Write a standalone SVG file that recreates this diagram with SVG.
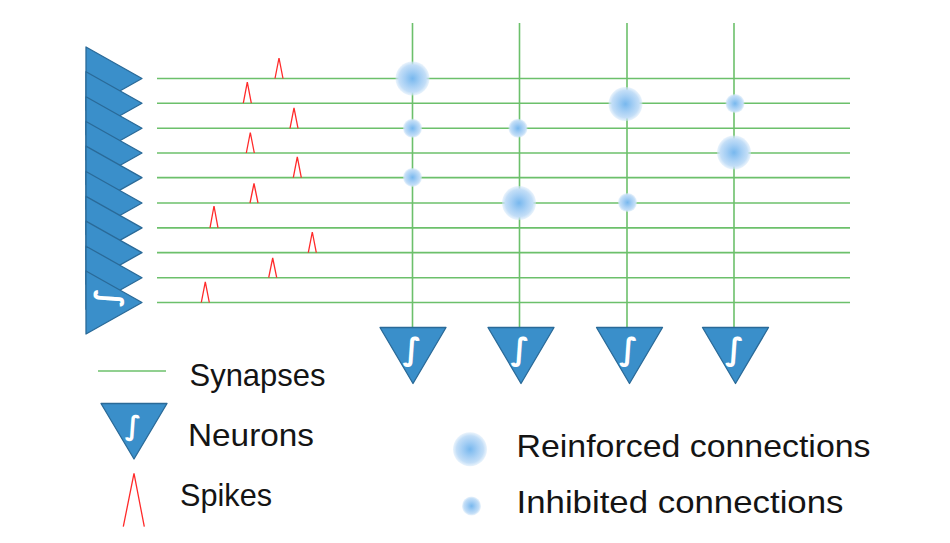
<svg xmlns="http://www.w3.org/2000/svg" width="950" height="543" viewBox="0 0 950 543">
<defs>
<style>
.syn{stroke:#6cc06b;stroke-width:1.6;fill:none}
.tri{fill:#3a8fca;stroke:#2a6a98;stroke-width:1.3;stroke-linejoin:round}
.spk{fill:none;stroke:#ff2a2a;stroke-width:1.3}
.int{font-family:"DejaVu Sans",sans-serif;font-weight:bold;font-size:31px;fill:#ffffff;text-anchor:middle}
.lbl{font-family:"Liberation Sans",Arial,sans-serif;font-size:30.5px;fill:#141414}
</style>
<radialGradient id="blob" cx="0.5" cy="0.5" r="0.5">
<stop offset="0" stop-color="#78b8ee"/>
<stop offset="0.45" stop-color="#a4cef4"/>
<stop offset="0.8" stop-color="#c3def7"/>
<stop offset="1" stop-color="#d3e7f9" stop-opacity="0.5"/>
</radialGradient>
</defs>
<rect width="950" height="543" fill="#ffffff"/>

<g id="connectors">
<g id="synapses-horizontal">
<line class="syn" x1="157" y1="78.5" x2="850" y2="78.5"/>
<line class="syn" x1="157" y1="103.2" x2="850" y2="103.2"/>
<line class="syn" x1="157" y1="128.3" x2="850" y2="128.3"/>
<line class="syn" x1="157" y1="153" x2="850" y2="153"/>
<line class="syn" x1="157" y1="177.6" x2="850" y2="177.6"/>
<line class="syn" x1="157" y1="203" x2="850" y2="203"/>
<line class="syn" x1="157" y1="227.9" x2="850" y2="227.9"/>
<line class="syn" x1="157" y1="252.6" x2="850" y2="252.6"/>
<line class="syn" x1="157" y1="277.7" x2="850" y2="277.7"/>
<line class="syn" x1="157" y1="302.5" x2="850" y2="302.5"/>
</g>
<g id="synapses-vertical">
<line class="syn" x1="412.5" y1="23" x2="412.5" y2="328"/>
<line class="syn" x1="519.5" y1="23" x2="519.5" y2="328"/>
<line class="syn" x1="627" y1="23" x2="627" y2="328"/>
<line class="syn" x1="734" y1="23" x2="734" y2="328"/>
</g>
</g>

<g id="input-neurons">
<polygon class="tri" points="86,47 142,78.5 86,110"/>
<polygon class="tri" points="86,71.7 142,103.2 86,134.7"/>
<polygon class="tri" points="86,96.8 142,128.3 86,159.8"/>
<polygon class="tri" points="86,121.5 142,153 86,184.5"/>
<polygon class="tri" points="86,146.1 142,177.6 86,209.1"/>
<polygon class="tri" points="86,171.5 142,203 86,234.5"/>
<polygon class="tri" points="86,196.4 142,227.9 86,259.4"/>
<polygon class="tri" points="86,221.1 142,252.6 86,284.1"/>
<polygon class="tri" points="86,246.2 142,277.7 86,309.2"/>
<polygon class="tri" points="86,271 142,302.5 86,334"/>
<text class="int" transform="translate(107,297.5) rotate(-90)" x="0" y="10">∫</text>
</g>

<g id="spikes">
<path class="spk" d="M275,78.5 L279,58 L283,78.5"/>
<path class="spk" d="M243.3,103.2 L247.3,82.2 L251.3,103.2"/>
<path class="spk" d="M290,128.3 L294,107.8 L298,128.3"/>
<path class="spk" d="M246.3,153 L250.3,132.5 L254.3,153"/>
<path class="spk" d="M293.3,177.6 L297.3,156.8 L301.3,177.6"/>
<path class="spk" d="M250,203 L254,183.5 L258,203"/>
<path class="spk" d="M210,227.9 L214,206 L218,227.9"/>
<path class="spk" d="M308.3,252.6 L312.3,232 L316.3,252.6"/>
<path class="spk" d="M268.7,277.7 L272.7,258 L276.7,277.7"/>
<path class="spk" d="M201.3,302.5 L205.3,281.8 L209.3,302.5"/>
</g>

<g id="weights">
<circle cx="412.5" cy="78.5" r="17" fill="url(#blob)"/>
<circle cx="412.5" cy="128.3" r="9.5" fill="url(#blob)"/>
<circle cx="412.5" cy="177.4" r="9.5" fill="url(#blob)"/>
<circle cx="518" cy="128.3" r="9.5" fill="url(#blob)"/>
<circle cx="519" cy="203" r="17" fill="url(#blob)"/>
<circle cx="625.5" cy="104" r="17" fill="url(#blob)"/>
<circle cx="627.5" cy="202.5" r="9.5" fill="url(#blob)"/>
<circle cx="735" cy="103.5" r="9.5" fill="url(#blob)"/>
<circle cx="734" cy="152.5" r="17" fill="url(#blob)"/>
</g>

<g id="output-neuron-1">
<polygon class="tri" points="380,327.5 446,327.5 413,383.5"/>
<text class="int" x="412" y="359.6">∫</text>
</g>
<g id="output-neuron-2">
<polygon class="tri" points="488,327.5 554,327.5 521,383.5"/>
<text class="int" x="520" y="359.6">∫</text>
</g>
<g id="output-neuron-3">
<polygon class="tri" points="596.5,327.5 662.5,327.5 629.5,383.5"/>
<text class="int" x="628.5" y="359.6">∫</text>
</g>
<g id="output-neuron-4">
<polygon class="tri" points="702.5,327.5 768.5,327.5 735.5,383.5"/>
<text class="int" x="734.5" y="359.6">∫</text>
</g>

<g id="legend">
<line class="syn" x1="98" y1="371" x2="166" y2="371"/>
<text class="lbl" x="189.5" y="385.7" textLength="136" lengthAdjust="spacingAndGlyphs">Synapses</text>
<polygon class="tri" points="101,403.5 167,403.5 134,459"/>
<text class="int" x="133" y="435" style="font-size:27px">∫</text>
<text class="lbl" x="188" y="445.7" textLength="126" lengthAdjust="spacingAndGlyphs">Neurons</text>
<path class="spk" d="M123.3,526.7 L134,473.3 L144.3,526.7"/>
<text class="lbl" x="180" y="506" textLength="92" lengthAdjust="spacingAndGlyphs">Spikes</text>
<circle cx="470" cy="449.3" r="17" fill="url(#blob)"/>
<text class="lbl" x="516.5" y="456.7" textLength="354" lengthAdjust="spacingAndGlyphs">Reinforced connections</text>
<circle cx="471.5" cy="506" r="9.5" fill="url(#blob)"/>
<text class="lbl" x="516.5" y="512.7" textLength="327" lengthAdjust="spacingAndGlyphs">Inhibited connections</text>
</g>
</svg>
